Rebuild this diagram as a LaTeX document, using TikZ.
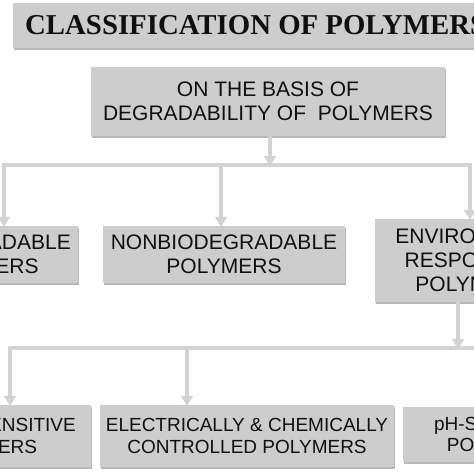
\documentclass[tikz,border=0pt]{standalone}
\usepackage{fontspec}
\setmainfont{Liberation Sans}
\newfontfamily\titlefont{Liberation Serif}
\usetikzlibrary{arrows.meta,shadows}
\definecolor{boxfill}{HTML}{CDCDCD}
\definecolor{linecol}{HTML}{D3D3D3}
\definecolor{txt}{HTML}{101010}
\definecolor{shadowcol}{HTML}{9A9A9A}
\tikzset{
  gbox/.style={fill=boxfill, draw=none, inner sep=0pt, align=center, text=txt,
    drop shadow={shadow xshift=1pt, shadow yshift=-2pt, fill=shadowcol, opacity=0.7}},
  bigtxt/.style={font=\fontsize{21}{24}\selectfont},
  smalltxt/.style={font=\fontsize{19}{21.5}\selectfont},
  busline/.style={draw=linecol, line width=4.5pt},
  conn/.style={busline, -{Triangle[width=12pt,length=10pt]}, shorten >=-1pt},
}
\begin{document}
\begin{tikzpicture}[x=1pt,y=-1pt]
\useasboundingbox (0,0) rectangle (474,474);
\clip (0,0) rectangle (474,474);
\fill[white] (0,0) rectangle (474,474);
% title
\node[gbox, anchor=west, minimum height=45pt, inner xsep=12pt,
  font=\titlefont\bfseries\fontsize{28.8}{30}\selectfont] (title) at (13,25.5) {CLASSIFICATION OF POLYMERS};
% level 1
\node[gbox, bigtxt, minimum width=354pt, minimum height=69pt] (deg) at (268,101.5)
  {ON THE BASIS OF\\DEGRADABILITY OF\ \ POLYMERS};
% level 2
\node[gbox, bigtxt, minimum width=194pt, minimum height=57pt] (bio) at (-19,254.5)
  {BIODEGRADABLE\\POLYMERS};
\node[gbox, bigtxt, minimum width=242pt, minimum height=57pt] (nonbio) at (224,254.5)
  {NONBIODEGRADABLE\\POLYMERS};
\node[gbox, bigtxt, minimum width=196pt, minimum height=83pt] (env) at (473,260.5)
  {ENVIRONMENT\\RESPONSIVE\\POLYMERS};
% level 3
\node[gbox, smalltxt, minimum width=212pt, minimum height=62pt] (thermo) at (-15,436)
  {THERMOSENSITIVE\\POLYMERS};
\node[gbox, smalltxt, minimum width=294pt, minimum height=62pt] (elec) at (247,436)
  {ELECTRICALLY \& CHEMICALLY\\CONTROLLED POLYMERS};
\node[gbox, smalltxt, minimum width=192pt, minimum height=55pt] (ph) at (499,434.5)
  {pH-SENSITIVE\\POLYMERS};
% bus coordinates
\coordinate (j1) at (270,165);
\coordinate (b1l) at (4,165);
\coordinate (b1m) at (221,165);
\coordinate (b1r) at (470,165);
\coordinate (j2) at (458,348);
\coordinate (b2l) at (10,348);
\coordinate (b2m) at (187,348);
\coordinate (b2r) at (490,348);
% connectors
\draw[busline] ([xshift=-2.25pt]b1l) -- ([xshift=2.25pt]b1r);
\draw[conn] (deg.south -| j1) -- (j1);
\draw[conn] (b1l) -- (bio.north -| b1l);
\draw[conn] (b1m) -- (nonbio.north -| b1m);
\draw[conn] (b1r) -- (env.north -| b1r);
\draw[busline] ([xshift=-2.25pt]b2l) -- (b2r);
\draw[conn] (env.south -| j2) -- (j2);
\draw[conn] (b2l) -- (thermo.north -| b2l);
\draw[conn] (b2m) -- (elec.north -| b2m);
\end{tikzpicture}
\end{document}
